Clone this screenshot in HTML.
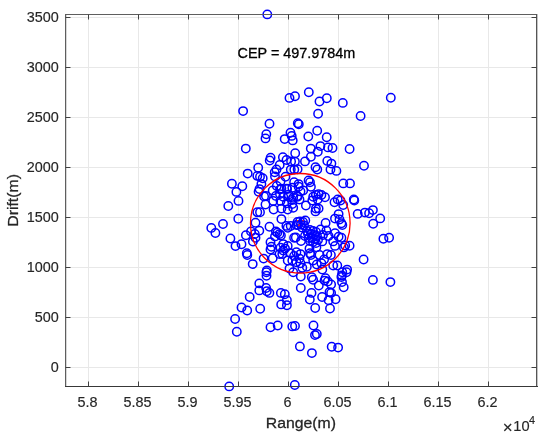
<!DOCTYPE html><html><head><meta charset="utf-8"><style>html,body{margin:0;padding:0;background:#fff;width:550px;height:444px;overflow:hidden}svg{display:block}</style></head><body><svg width="550" height="444" viewBox="0 0 550 444">
<rect width="550" height="444" fill="#fff"/>
<path d="M88.5 14.5V386.5M138.5 14.5V386.5M188.5 14.5V386.5M238.5 14.5V386.5M288.5 14.5V386.5M338.5 14.5V386.5M388.5 14.5V386.5M438.5 14.5V386.5M488.5 14.5V386.5M65.5 17.5H536.5M65.5 67.5H536.5M65.5 117.5H536.5M65.5 167.5H536.5M65.5 217.5H536.5M65.5 267.5H536.5M65.5 317.5H536.5M65.5 367.5H536.5" stroke="#e8e8e8" stroke-width="1" fill="none"/>
<g fill="none" stroke="#0000ff" stroke-width="1.5"><circle cx="267.3" cy="14.4" r="4.2"/><circle cx="243.1" cy="111.1" r="4.2"/><circle cx="245.8" cy="148.6" r="4.2"/><circle cx="289.5" cy="97.9" r="4.2"/><circle cx="295.0" cy="96.2" r="4.2"/><circle cx="308.8" cy="92.2" r="4.2"/><circle cx="319.5" cy="101.5" r="4.2"/><circle cx="326.8" cy="98.2" r="4.2"/><circle cx="342.8" cy="102.9" r="4.2"/><circle cx="390.8" cy="97.8" r="4.2"/><circle cx="318.1" cy="113.8" r="4.2"/><circle cx="360.6" cy="116.0" r="4.2"/><circle cx="269.5" cy="123.8" r="4.2"/><circle cx="297.8" cy="123.3" r="4.2"/><circle cx="298.8" cy="124.2" r="4.2"/><circle cx="266.3" cy="134.2" r="4.2"/><circle cx="265.5" cy="138.4" r="4.2"/><circle cx="290.5" cy="132.7" r="4.2"/><circle cx="291.7" cy="135.9" r="4.2"/><circle cx="284.7" cy="139.1" r="4.2"/><circle cx="292.7" cy="140.4" r="4.2"/><circle cx="308.3" cy="136.5" r="4.2"/><circle cx="317.2" cy="130.8" r="4.2"/><circle cx="326.7" cy="137.2" r="4.2"/><circle cx="310.8" cy="148.6" r="4.2"/><circle cx="320.4" cy="146.1" r="4.2"/><circle cx="317.8" cy="151.8" r="4.2"/><circle cx="328.0" cy="147.4" r="4.2"/><circle cx="332.5" cy="148.0" r="4.2"/><circle cx="349.6" cy="149.0" r="4.2"/><circle cx="364.0" cy="165.8" r="4.2"/><circle cx="231.9" cy="183.7" r="4.2"/><circle cx="242.3" cy="186.3" r="4.2"/><circle cx="236.4" cy="191.9" r="4.2"/><circle cx="238.5" cy="200.9" r="4.2"/><circle cx="228.3" cy="206.0" r="4.2"/><circle cx="238.3" cy="218.7" r="4.2"/><circle cx="223.0" cy="224.0" r="4.2"/><circle cx="350.0" cy="183.4" r="4.2"/><circle cx="353.8" cy="199.5" r="4.2"/><circle cx="354.3" cy="200.5" r="4.2"/><circle cx="357.7" cy="213.9" r="4.2"/><circle cx="364.9" cy="212.6" r="4.2"/><circle cx="369.1" cy="213.3" r="4.2"/><circle cx="372.9" cy="210.1" r="4.2"/><circle cx="380.2" cy="218.4" r="4.2"/><circle cx="373.2" cy="223.8" r="4.2"/><circle cx="211.3" cy="227.9" r="4.2"/><circle cx="215.4" cy="233.0" r="4.2"/><circle cx="230.4" cy="238.5" r="4.2"/><circle cx="235.5" cy="246.1" r="4.2"/><circle cx="241.5" cy="244.2" r="4.2"/><circle cx="383.4" cy="238.8" r="4.2"/><circle cx="389.1" cy="237.8" r="4.2"/><circle cx="363.6" cy="259.5" r="4.2"/><circle cx="349.6" cy="245.7" r="4.2"/><circle cx="345.2" cy="245.5" r="4.2"/><circle cx="347.1" cy="269.6" r="4.2"/><circle cx="346.5" cy="272.2" r="4.2"/><circle cx="259.3" cy="283.4" r="4.2"/><circle cx="259.3" cy="290.4" r="4.2"/><circle cx="249.7" cy="297.0" r="4.2"/><circle cx="241.5" cy="307.5" r="4.2"/><circle cx="247.2" cy="310.5" r="4.2"/><circle cx="260.2" cy="308.8" r="4.2"/><circle cx="235.1" cy="319.0" r="4.2"/><circle cx="372.9" cy="279.9" r="4.2"/><circle cx="390.4" cy="282.1" r="4.2"/><circle cx="341.4" cy="277.0" r="4.2"/><circle cx="342.0" cy="282.1" r="4.2"/><circle cx="343.7" cy="287.2" r="4.2"/><circle cx="335.6" cy="299.3" r="4.2"/><circle cx="236.8" cy="331.8" r="4.2"/><circle cx="270.5" cy="327.3" r="4.2"/><circle cx="277.7" cy="325.5" r="4.2"/><circle cx="292.3" cy="326.4" r="4.2"/><circle cx="295.0" cy="326.0" r="4.2"/><circle cx="229.2" cy="386.4" r="4.2"/><circle cx="294.8" cy="385.0" r="4.2"/><circle cx="313.5" cy="325.5" r="4.2"/><circle cx="315.0" cy="335.1" r="4.2"/><circle cx="316.8" cy="334.0" r="4.2"/><circle cx="299.9" cy="346.4" r="4.2"/><circle cx="311.9" cy="353.1" r="4.2"/><circle cx="331.7" cy="346.7" r="4.2"/><circle cx="338.1" cy="347.6" r="4.2"/><circle cx="266.5" cy="275.7" r="4.2"/><circle cx="266.1" cy="288.0" r="4.2"/><circle cx="266.8" cy="291.3" r="4.2"/><circle cx="269.4" cy="292.9" r="4.2"/><circle cx="280.9" cy="292.9" r="4.2"/><circle cx="284.8" cy="294.2" r="4.2"/><circle cx="286.9" cy="300.3" r="4.2"/><circle cx="281.2" cy="304.4" r="4.2"/><circle cx="286.9" cy="305.2" r="4.2"/><circle cx="300.8" cy="288.0" r="4.2"/><circle cx="300.8" cy="276.5" r="4.2"/><circle cx="313.1" cy="279.8" r="4.2"/><circle cx="318.8" cy="285.5" r="4.2"/><circle cx="311.5" cy="292.9" r="4.2"/><circle cx="309.8" cy="299.5" r="4.2"/><circle cx="315.2" cy="308.0" r="4.2"/><circle cx="322.1" cy="297.0" r="4.2"/><circle cx="324.6" cy="280.6" r="4.2"/><circle cx="327.8" cy="281.5" r="4.2"/><circle cx="331.1" cy="284.4" r="4.2"/><circle cx="329.5" cy="292.1" r="4.2"/><circle cx="331.1" cy="292.9" r="4.2"/><circle cx="328.6" cy="300.3" r="4.2"/><circle cx="330.0" cy="308.5" r="4.2"/><circle cx="341.8" cy="275.5" r="4.2"/><circle cx="311.8" cy="277.3" r="4.2"/><circle cx="325.5" cy="278.2" r="4.2"/><circle cx="247.7" cy="173.6" r="4.2"/><circle cx="258.2" cy="167.7" r="4.2"/><circle cx="257.3" cy="175.9" r="4.2"/><circle cx="260.0" cy="176.8" r="4.2"/><circle cx="262.7" cy="178.2" r="4.2"/><circle cx="261.4" cy="184.1" r="4.2"/><circle cx="275.0" cy="176.4" r="4.2"/><circle cx="285.5" cy="176.8" r="4.2"/><circle cx="280.5" cy="181.4" r="4.2"/><circle cx="294.1" cy="182.3" r="4.2"/><circle cx="305.0" cy="161.4" r="4.2"/><circle cx="310.9" cy="156.8" r="4.2"/><circle cx="315.5" cy="167.3" r="4.2"/><circle cx="317.3" cy="169.5" r="4.2"/><circle cx="327.3" cy="160.9" r="4.2"/><circle cx="331.4" cy="163.6" r="4.2"/><circle cx="330.5" cy="169.5" r="4.2"/><circle cx="336.4" cy="170.9" r="4.2"/><circle cx="308.6" cy="180.5" r="4.2"/><circle cx="310.0" cy="182.3" r="4.2"/><circle cx="298.6" cy="184.1" r="4.2"/><circle cx="259.5" cy="189.1" r="4.2"/><circle cx="258.6" cy="191.8" r="4.2"/><circle cx="264.1" cy="196.4" r="4.2"/><circle cx="265.9" cy="195.9" r="4.2"/><circle cx="265.5" cy="204.5" r="4.2"/><circle cx="257.3" cy="212.3" r="4.2"/><circle cx="260.0" cy="212.3" r="4.2"/><circle cx="272.7" cy="190.5" r="4.2"/><circle cx="273.2" cy="200.9" r="4.2"/><circle cx="273.6" cy="209.5" r="4.2"/><circle cx="281.4" cy="188.6" r="4.2"/><circle cx="286.8" cy="188.6" r="4.2"/><circle cx="292.3" cy="187.7" r="4.2"/><circle cx="280.0" cy="194.1" r="4.2"/><circle cx="283.2" cy="196.8" r="4.2"/><circle cx="288.6" cy="196.8" r="4.2"/><circle cx="293.2" cy="197.7" r="4.2"/><circle cx="280.5" cy="200.9" r="4.2"/><circle cx="286.8" cy="203.2" r="4.2"/><circle cx="292.3" cy="204.1" r="4.2"/><circle cx="281.4" cy="208.6" r="4.2"/><circle cx="287.7" cy="209.5" r="4.2"/><circle cx="293.2" cy="207.7" r="4.2"/><circle cx="276.8" cy="185.9" r="4.2"/><circle cx="275.9" cy="195.9" r="4.2"/><circle cx="310.9" cy="186.8" r="4.2"/><circle cx="313.2" cy="196.8" r="4.2"/><circle cx="315.9" cy="195.0" r="4.2"/><circle cx="318.6" cy="194.1" r="4.2"/><circle cx="321.4" cy="195.0" r="4.2"/><circle cx="325.0" cy="197.3" r="4.2"/><circle cx="312.3" cy="200.5" r="4.2"/><circle cx="317.7" cy="199.5" r="4.2"/><circle cx="305.9" cy="205.5" r="4.2"/><circle cx="315.9" cy="208.6" r="4.2"/><circle cx="318.6" cy="208.6" r="4.2"/><circle cx="315.5" cy="211.4" r="4.2"/><circle cx="298.6" cy="186.8" r="4.2"/><circle cx="300.5" cy="191.4" r="4.2"/><circle cx="303.2" cy="190.5" r="4.2"/><circle cx="297.7" cy="196.8" r="4.2"/><circle cx="299.5" cy="199.5" r="4.2"/><circle cx="334.5" cy="202.3" r="4.2"/><circle cx="337.7" cy="199.5" r="4.2"/><circle cx="340.5" cy="200.5" r="4.2"/><circle cx="343.2" cy="205.0" r="4.2"/><circle cx="338.6" cy="214.1" r="4.2"/><circle cx="255.5" cy="222.7" r="4.2"/><circle cx="269.5" cy="226.8" r="4.2"/><circle cx="281.4" cy="219.1" r="4.2"/><circle cx="286.4" cy="225.9" r="4.2"/><circle cx="287.7" cy="227.7" r="4.2"/><circle cx="275.9" cy="231.4" r="4.2"/><circle cx="277.3" cy="232.7" r="4.2"/><circle cx="279.5" cy="234.1" r="4.2"/><circle cx="280.9" cy="235.5" r="4.2"/><circle cx="275.0" cy="236.4" r="4.2"/><circle cx="270.5" cy="242.3" r="4.2"/><circle cx="283.2" cy="244.1" r="4.2"/><circle cx="335.0" cy="233.2" r="4.2"/><circle cx="338.6" cy="236.8" r="4.2"/><circle cx="341.4" cy="237.7" r="4.2"/><circle cx="335.0" cy="218.6" r="4.2"/><circle cx="339.5" cy="219.5" r="4.2"/><circle cx="341.4" cy="223.2" r="4.2"/><circle cx="342.3" cy="225.0" r="4.2"/><circle cx="333.2" cy="241.4" r="4.2"/><circle cx="246.8" cy="253.2" r="4.2"/><circle cx="247.3" cy="255.0" r="4.2"/><circle cx="252.7" cy="264.1" r="4.2"/><circle cx="263.6" cy="258.6" r="4.2"/><circle cx="272.7" cy="258.2" r="4.2"/><circle cx="266.8" cy="270.5" r="4.2"/><circle cx="266.4" cy="272.3" r="4.2"/><circle cx="270.5" cy="249.5" r="4.2"/><circle cx="271.4" cy="246.8" r="4.2"/><circle cx="279.5" cy="254.1" r="4.2"/><circle cx="282.3" cy="254.1" r="4.2"/><circle cx="283.2" cy="250.5" r="4.2"/><circle cx="280.5" cy="247.7" r="4.2"/><circle cx="285.0" cy="248.6" r="4.2"/><circle cx="287.7" cy="260.5" r="4.2"/><circle cx="292.3" cy="260.5" r="4.2"/><circle cx="290.5" cy="253.2" r="4.2"/><circle cx="289.5" cy="268.6" r="4.2"/><circle cx="293.2" cy="272.3" r="4.2"/><circle cx="294.1" cy="255.9" r="4.2"/><circle cx="287.7" cy="245.9" r="4.2"/><circle cx="300.5" cy="254.1" r="4.2"/><circle cx="299.5" cy="258.6" r="4.2"/><circle cx="300.5" cy="263.2" r="4.2"/><circle cx="302.3" cy="267.7" r="4.2"/><circle cx="306.8" cy="266.8" r="4.2"/><circle cx="310.0" cy="253.2" r="4.2"/><circle cx="310.9" cy="255.0" r="4.2"/><circle cx="309.5" cy="248.6" r="4.2"/><circle cx="316.4" cy="247.3" r="4.2"/><circle cx="319.5" cy="255.0" r="4.2"/><circle cx="316.8" cy="264.5" r="4.2"/><circle cx="321.4" cy="263.2" r="4.2"/><circle cx="322.3" cy="269.5" r="4.2"/><circle cx="327.3" cy="254.1" r="4.2"/><circle cx="330.9" cy="255.0" r="4.2"/><circle cx="324.1" cy="259.5" r="4.2"/><circle cx="333.2" cy="265.5" r="4.2"/><circle cx="337.3" cy="265.5" r="4.2"/><circle cx="335.0" cy="245.9" r="4.2"/><circle cx="296.4" cy="252.3" r="4.2"/><circle cx="296.4" cy="262.3" r="4.2"/><circle cx="313.2" cy="260.5" r="4.2"/><circle cx="342.3" cy="272.3" r="4.2"/><circle cx="297.5" cy="222.0" r="4.2"/><circle cx="300.0" cy="221.5" r="4.2"/><circle cx="303.0" cy="222.0" r="4.2"/><circle cx="298.0" cy="225.0" r="4.2"/><circle cx="301.0" cy="224.5" r="4.2"/><circle cx="304.0" cy="225.5" r="4.2"/><circle cx="302.0" cy="227.5" r="4.2"/><circle cx="296.5" cy="225.0" r="4.2"/><circle cx="305.3" cy="220.5" r="4.2"/><circle cx="307.0" cy="231.0" r="4.2"/><circle cx="310.0" cy="230.0" r="4.2"/><circle cx="313.0" cy="231.0" r="4.2"/><circle cx="316.0" cy="232.0" r="4.2"/><circle cx="308.0" cy="234.0" r="4.2"/><circle cx="311.0" cy="234.0" r="4.2"/><circle cx="314.0" cy="235.0" r="4.2"/><circle cx="317.0" cy="236.0" r="4.2"/><circle cx="309.0" cy="238.0" r="4.2"/><circle cx="312.0" cy="238.0" r="4.2"/><circle cx="315.0" cy="239.0" r="4.2"/><circle cx="318.0" cy="240.0" r="4.2"/><circle cx="310.0" cy="241.0" r="4.2"/><circle cx="313.0" cy="242.0" r="4.2"/><circle cx="316.0" cy="243.0" r="4.2"/><circle cx="325.6" cy="223.0" r="4.2"/><circle cx="320.5" cy="229.5" r="4.2"/><circle cx="295.8" cy="237.5" r="4.2"/><circle cx="290.7" cy="226.0" r="4.2"/><circle cx="326.4" cy="230.5" r="4.2"/><circle cx="323.0" cy="235.0" r="4.2"/><circle cx="328.6" cy="236.0" r="4.2"/><circle cx="322.3" cy="241.4" r="4.2"/><circle cx="305.0" cy="236.0" r="4.2"/><circle cx="301.0" cy="241.0" r="4.2"/><circle cx="294.1" cy="237.7" r="4.2"/><circle cx="245.9" cy="235.3" r="4.2"/><circle cx="251.0" cy="231.5" r="4.2"/><circle cx="254.8" cy="234.0" r="4.2"/><circle cx="255.5" cy="237.8" r="4.2"/><circle cx="252.9" cy="241.6" r="4.2"/><circle cx="259.3" cy="230.8" r="4.2"/><circle cx="343.3" cy="183.4" r="4.2"/><circle cx="343.9" cy="247.4" r="4.2"/><circle cx="270.6" cy="157.7" r="4.2"/><circle cx="269.7" cy="160.5" r="4.2"/><circle cx="282.9" cy="157.3" r="4.2"/><circle cx="279.7" cy="165.0" r="4.2"/><circle cx="276.5" cy="169.5" r="4.2"/><circle cx="274.7" cy="172.3" r="4.2"/><circle cx="286.5" cy="160.0" r="4.2"/><circle cx="291.1" cy="161.4" r="4.2"/><circle cx="294.9" cy="161.6" r="4.2"/><circle cx="290.8" cy="169.6" r="4.2"/><circle cx="294.3" cy="169.6" r="4.2"/><circle cx="297.6" cy="169.2" r="4.2"/><circle cx="295.2" cy="153.2" r="4.2"/><circle cx="280.0" cy="189.5" r="4.2"/><circle cx="287.0" cy="189.0" r="4.2"/><circle cx="288.5" cy="194.6" r="4.2"/><circle cx="291.9" cy="200.0" r="4.2"/><circle cx="297.3" cy="196.0" r="4.2"/></g>
<circle cx="300.3" cy="223.3" r="49.8" fill="none" stroke="#ff0000" stroke-width="1.3"/>
<g fill="#ff3000"><rect x="298.3" y="224.2" width="1.4" height="2" transform="rotate(35 299 225.2)"/><rect x="296.9" y="220" width="1.2" height="1.2"/><rect x="302.5" y="220" width="1.2" height="1.2"/></g>
<g shape-rendering="crispEdges"><rect x="65" y="14" width="472" height="1" fill="#5e5e5e"/><rect x="65" y="14" width="1" height="373" fill="#5e5e5e"/><rect x="66" y="15" width="1" height="371" fill="#d8d8d8"/><rect x="536" y="14" width="1" height="373" fill="#555"/><rect x="537" y="14" width="1" height="373" fill="#c4c4c4"/><rect x="65" y="386" width="473" height="1" fill="#383838"/></g>
<path d="M88.5 386.5V381.5M88.5 14.5V19.5M138.5 386.5V381.5M138.5 14.5V19.5M188.5 386.5V381.5M188.5 14.5V19.5M238.5 386.5V381.5M238.5 14.5V19.5M288.5 386.5V381.5M288.5 14.5V19.5M338.5 386.5V381.5M338.5 14.5V19.5M388.5 386.5V381.5M388.5 14.5V19.5M438.5 386.5V381.5M438.5 14.5V19.5M488.5 386.5V381.5M488.5 14.5V19.5M65.5 17.5H70.5M536.5 17.5H531.5M65.5 67.5H70.5M536.5 67.5H531.5M65.5 117.5H70.5M536.5 117.5H531.5M65.5 167.5H70.5M536.5 167.5H531.5M65.5 217.5H70.5M536.5 217.5H531.5M65.5 267.5H70.5M536.5 267.5H531.5M65.5 317.5H70.5M536.5 317.5H531.5M65.5 367.5H70.5M536.5 367.5H531.5" stroke="#404040" stroke-width="1" fill="none"/>
<g font-family="Liberation Sans, Arial, sans-serif" font-size="14.4" fill="#262626" stroke="#262626" stroke-width="0.15">
<text x="87.5" y="406.5" text-anchor="middle">5.8</text>
<text x="137.5" y="406.5" text-anchor="middle">5.85</text>
<text x="187.5" y="406.5" text-anchor="middle">5.9</text>
<text x="237.5" y="406.5" text-anchor="middle">5.95</text>
<text x="287.5" y="406.5" text-anchor="middle">6</text>
<text x="337.5" y="406.5" text-anchor="middle">6.05</text>
<text x="387.5" y="406.5" text-anchor="middle">6.1</text>
<text x="437.5" y="406.5" text-anchor="middle">6.15</text>
<text x="487.5" y="406.5" text-anchor="middle">6.2</text>
<text x="58.8" y="22.3" text-anchor="end">3500</text>
<text x="58.8" y="72.3" text-anchor="end">3000</text>
<text x="58.8" y="122.3" text-anchor="end">2500</text>
<text x="58.8" y="172.3" text-anchor="end">2000</text>
<text x="58.8" y="222.3" text-anchor="end">1500</text>
<text x="58.8" y="272.3" text-anchor="end">1000</text>
<text x="58.8" y="322.3" text-anchor="end">500</text>
<text x="58.8" y="372.3" text-anchor="end">0</text>
</g>
<text x="237.6" y="58.2" font-family="Liberation Sans, Arial, sans-serif" font-size="14.4" fill="#000" stroke="#000" stroke-width="0.3">CEP = 497.9784m</text>
<text transform="translate(300.9,427.6) scale(1,0.96)" text-anchor="middle" font-family="Liberation Sans, Arial, sans-serif" font-size="15.8" fill="#262626" stroke="#262626" stroke-width="0.3">Range(m)</text>
<text transform="translate(18.1,200.4) rotate(-90) scale(1,0.95)" text-anchor="middle" font-family="Liberation Sans, Arial, sans-serif" font-size="15.8" fill="#262626" stroke="#262626" stroke-width="0.3">Drift(m)</text>
<g font-family="Liberation Sans, Arial, sans-serif" fill="#262626" stroke="#262626" stroke-width="0.15"><text x="502.8" y="432.8" font-size="17">×</text><text x="513.3" y="431" font-size="14.6">10</text><text x="529" y="424" font-size="10.8">4</text></g>
</svg></body></html>
